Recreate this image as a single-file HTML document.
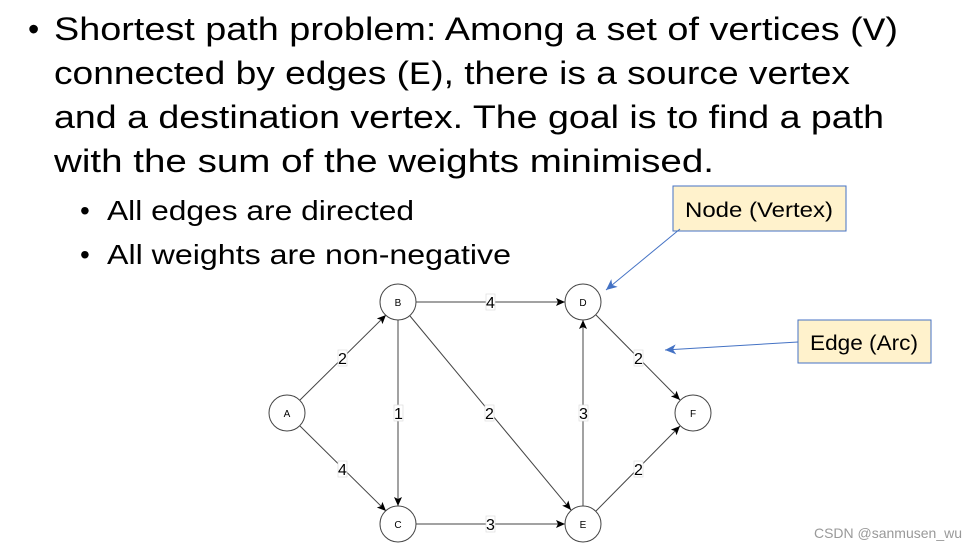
<!DOCTYPE html>
<html><head><style>body{margin:0;background:#fff}svg{display:block}</style></head><body>
<svg width="976" height="549" viewBox="0 0 976 549" xmlns="http://www.w3.org/2000/svg" font-family="Liberation Sans, sans-serif">
<defs>
<marker id="ar" markerWidth="10" markerHeight="10" refX="9" refY="5" orient="auto" markerUnits="userSpaceOnUse"><path d="M0,1 L9,5 L0,9 L2,5 z" fill="#000"/></marker>
<marker id="bl" markerWidth="12" markerHeight="12" refX="11" refY="6" orient="auto" markerUnits="userSpaceOnUse"><path d="M0,1 L11,6 L0,11 L3,6 z" fill="#4472c4"/></marker>
</defs>
<g font-size="32" fill="#000">
<text x="28" y="40">•</text>
<text x="54" y="40" textLength="844" lengthAdjust="spacingAndGlyphs">Shortest path problem: Among a set of vertices (<tspan font-family="Liberation Mono, monospace">V</tspan>)</text>
<text x="54" y="84" textLength="796" lengthAdjust="spacingAndGlyphs">connected by edges (<tspan font-family="Liberation Mono, monospace">E</tspan>), there is a source vertex</text>
<text x="54" y="128" textLength="830" lengthAdjust="spacingAndGlyphs">and a destination vertex. The goal is to find a path</text>
<text x="54" y="172" textLength="660" lengthAdjust="spacingAndGlyphs">with the sum of the weights minimised.</text>
</g>
<g font-size="28" fill="#000">
<text x="80" y="220">•</text>
<text x="107" y="220" textLength="307" lengthAdjust="spacingAndGlyphs">All edges are directed</text>
<text x="80" y="264">•</text>
<text x="107" y="264" textLength="404" lengthAdjust="spacingAndGlyphs">All weights are non-negative</text>
</g>
<g stroke="#444" stroke-width="1" fill="none" marker-end="url(#ar)">
<line x1="300" y1="400" x2="386" y2="315"/>
<line x1="300" y1="426" x2="386" y2="511"/>
<line x1="416" y1="302" x2="565" y2="302"/>
<line x1="398" y1="320" x2="398" y2="506"/>
<line x1="410" y1="316" x2="571" y2="510"/>
<line x1="416" y1="524" x2="565" y2="524"/>
<line x1="583" y1="506" x2="583" y2="320"/>
<line x1="596" y1="315" x2="680" y2="400"/>
<line x1="596" y1="511" x2="680" y2="426"/>
</g>
<g fill="#fff" stroke="#444"><circle cx="287" cy="413" r="18"/><circle cx="398" cy="302" r="18"/><circle cx="583" cy="302" r="18"/><circle cx="398" cy="524" r="18"/><circle cx="583" cy="524" r="18"/><circle cx="693" cy="413" r="18"/></g>
<g font-size="10" text-anchor="middle" fill="#000"><text x="287" y="417">A</text><text x="398" y="306">B</text><text x="583" y="306">D</text><text x="398" y="528">C</text><text x="583" y="528">E</text><text x="693" y="417">F</text></g>
<g fill="#fff" stroke="#ddd" stroke-width="0.7">
<rect x="338" y="350" width="9" height="16"/><rect x="338" y="461" width="9" height="16"/><rect x="486" y="294" width="9" height="16"/><rect x="394" y="405" width="9" height="16"/><rect x="485" y="405" width="9" height="16"/><rect x="486" y="516" width="9" height="16"/><rect x="579" y="405" width="9" height="16"/><rect x="634" y="350" width="9" height="16"/><rect x="634" y="461" width="9" height="16"/>
</g>
<g font-size="16" text-anchor="middle" fill="#000">
<text x="342.5" y="364">2</text><text x="342.5" y="475">4</text><text x="490.5" y="308">4</text><text x="398.5" y="419">1</text><text x="489.5" y="419">2</text><text x="490.5" y="530">3</text><text x="583.5" y="419">3</text><text x="638.5" y="364">2</text><text x="638.5" y="475">2</text>
</g>
<rect x="673" y="186" width="173" height="45" fill="#fff2cc" stroke="#4472c4"/>
<text x="759" y="217" font-size="21" text-anchor="middle" textLength="148" lengthAdjust="spacingAndGlyphs">Node (Vertex)</text>
<rect x="798" y="320" width="133" height="43" fill="#fff2cc" stroke="#4472c4"/>
<text x="864" y="350" font-size="21" text-anchor="middle" textLength="108" lengthAdjust="spacingAndGlyphs">Edge (Arc)</text>
<line x1="680" y1="229" x2="606" y2="290" stroke="#4472c4" stroke-width="1" marker-end="url(#bl)"/>
<line x1="798" y1="342" x2="665" y2="350" stroke="#4472c4" stroke-width="1" marker-end="url(#bl)"/>
<text x="962" y="538" font-size="14" fill="#999" text-anchor="end">CSDN @sanmusen_wu</text>
</svg>
</body></html>
